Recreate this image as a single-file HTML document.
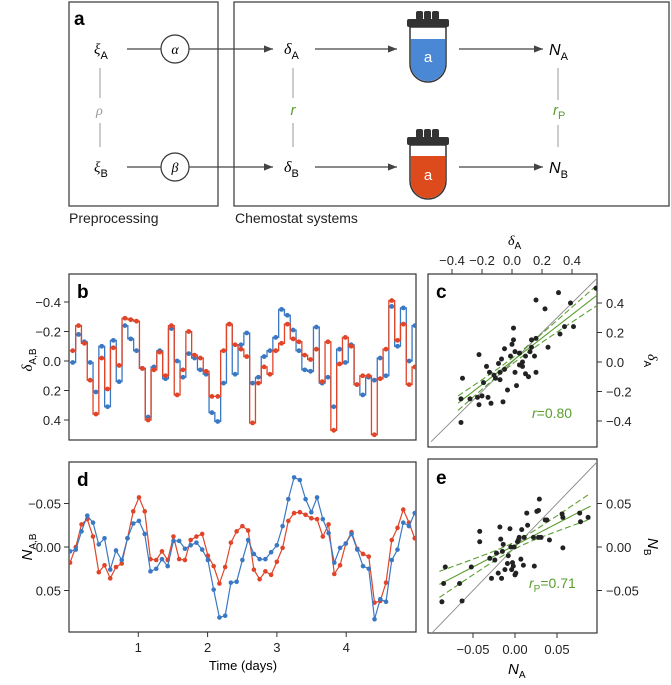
<!DOCTYPE html>
<html><head><meta charset="utf-8"><style>
html,body{margin:0;padding:0;background:#fff;}
svg{display:block;font-family:"Liberation Sans",sans-serif;}
</style></head><body>
<svg id="fig" width="671" height="685" viewBox="0 0 671 685" xmlns="http://www.w3.org/2000/svg">
<defs>
<marker id="ah" viewBox="0 0 10 10" refX="10" refY="5" markerWidth="9" markerHeight="9" markerUnits="userSpaceOnUse" orient="auto"><path d="M0,1 L10,5 L0,9 z" fill="#444"/></marker>
<clipPath id="clipB"><rect x="69" y="274" width="347" height="166"/></clipPath>
<clipPath id="clipD"><rect x="69" y="462" width="347" height="170"/></clipPath>
<clipPath id="clipC"><rect x="428" y="274" width="169" height="173"/></clipPath>
<clipPath id="clipE"><rect x="428" y="459" width="169" height="174"/></clipPath>
</defs>

<!-- Panel a -->
<g>
<rect x="69" y="2" width="149" height="204" fill="none" stroke="#444" stroke-width="1.3"/>
<rect x="234" y="2" width="435" height="204" fill="none" stroke="#444" stroke-width="1.3"/>
<text x="74" y="25" font-size="19" font-weight="bold">a</text>
<text x="69" y="223" font-size="14" fill="#222">Preprocessing</text>
<text x="235" y="223" font-size="14" fill="#222">Chemostat systems</text>

<text x="94" y="54" font-size="15" font-family="Liberation Serif,serif" font-style="italic">ξ<tspan font-family="Liberation Sans,sans-serif" font-style="normal" font-size="11" dy="5">A</tspan></text>
<text x="94" y="172" font-size="15" font-family="Liberation Serif,serif" font-style="italic">ξ<tspan font-family="Liberation Sans,sans-serif" font-style="normal" font-size="11" dy="5">B</tspan></text>
<line x1="100" y1="68" x2="100" y2="98" stroke="#999"/><line x1="100" y1="123" x2="100" y2="147" stroke="#999"/>
<text x="96" y="115" font-size="14" fill="#999" font-family="Liberation Serif,serif" font-style="italic">ρ</text>

<line x1="127" y1="49" x2="161" y2="49" stroke="#444" stroke-width="1.2"/>
<circle cx="175" cy="49" r="14" fill="none" stroke="#333" stroke-width="1.2"/>
<text x="175" y="54" font-size="14" text-anchor="middle" font-family="Liberation Serif,serif" font-style="italic">α</text>
<line x1="189" y1="49" x2="273" y2="49" stroke="#444" stroke-width="1.2" marker-end="url(#ah)"/>
<line x1="127" y1="167" x2="161" y2="167" stroke="#444" stroke-width="1.2"/>
<circle cx="175" cy="167" r="14" fill="none" stroke="#333" stroke-width="1.2"/>
<text x="175" y="172" font-size="14" text-anchor="middle" font-family="Liberation Serif,serif" font-style="italic">β</text>
<line x1="189" y1="167" x2="273" y2="167" stroke="#444" stroke-width="1.2" marker-end="url(#ah)"/>

<text x="284" y="54" font-size="16" font-family="Liberation Serif,serif" font-style="italic">δ<tspan font-family="Liberation Sans,sans-serif" font-style="normal" font-size="11" dy="5">A</tspan></text>
<text x="284" y="172" font-size="16" font-family="Liberation Serif,serif" font-style="italic">δ<tspan font-family="Liberation Sans,sans-serif" font-style="normal" font-size="11" dy="5">B</tspan></text>
<line x1="293" y1="68" x2="293" y2="98" stroke="#999"/><line x1="293" y1="123" x2="293" y2="147" stroke="#999"/>
<text x="293" y="115" font-size="15" fill="#5a9e2f" text-anchor="middle" font-style="italic">r</text>

<line x1="315" y1="49" x2="397" y2="49" stroke="#444" stroke-width="1.2" marker-end="url(#ah)"/>
<line x1="315" y1="167" x2="397" y2="167" stroke="#444" stroke-width="1.2" marker-end="url(#ah)"/>

<g>
<rect x="416" y="11" width="7" height="9" rx="2" fill="#333"/><rect x="424" y="11" width="7" height="9" rx="2" fill="#333"/><rect x="432" y="11" width="7" height="9" rx="2" fill="#333"/>
<rect x="407" y="19" width="42" height="8" rx="2" fill="#333"/>
<path d="M410,27 V64 A18,18 0 0 0 446,64 V27 Z" fill="#fff" stroke="#333" stroke-width="1.5"/>
<path d="M410.8,39 V64 A17.2,17.2 0 0 0 445.2,64 V39 Z" fill="#4a88d6"/>
<text x="428" y="62" font-size="15" fill="#fff" text-anchor="middle">a</text>
</g>
<g>
<rect x="416" y="129" width="7" height="9" rx="2" fill="#333"/><rect x="424" y="129" width="7" height="9" rx="2" fill="#333"/><rect x="432" y="129" width="7" height="9" rx="2" fill="#333"/>
<rect x="407" y="137" width="42" height="8" rx="2" fill="#333"/>
<path d="M410,145 V181 A18,18 0 0 0 446,181 V145 Z" fill="#fff" stroke="#333" stroke-width="1.5"/>
<path d="M410.8,156 V181 A17.2,17.2 0 0 0 445.2,181 V156 Z" fill="#dd4a1c"/>
<text x="428" y="180" font-size="15" fill="#fff" text-anchor="middle">a</text>
</g>
<line x1="459" y1="49" x2="543" y2="49" stroke="#444" stroke-width="1.2" marker-end="url(#ah)"/>
<line x1="459" y1="167" x2="543" y2="167" stroke="#444" stroke-width="1.2" marker-end="url(#ah)"/>
<text x="549" y="55" font-size="16" font-style="italic">N<tspan font-style="normal" font-size="11" dy="5">A</tspan></text>
<text x="549" y="173" font-size="16" font-style="italic">N<tspan font-style="normal" font-size="11" dy="5">B</tspan></text>
<line x1="558" y1="68" x2="558" y2="100" stroke="#999"/><line x1="558" y1="125" x2="558" y2="147" stroke="#999"/>
<text x="553" y="115" font-size="15" fill="#5a9e2f" font-style="italic">r<tspan font-style="normal" font-size="11" dy="4">P</tspan></text>
</g>

<!-- frames & static axis text -->
<rect x="69" y="274" width="347" height="166" fill="none" stroke="#333" stroke-width="1.2"/>
<rect x="69" y="462" width="347" height="170" fill="none" stroke="#333" stroke-width="1.2"/>
<rect x="428" y="274" width="169" height="173" fill="none" stroke="#333" stroke-width="1.2"/>
<rect x="428" y="459" width="169" height="174" fill="none" stroke="#333" stroke-width="1.2"/>
<text x="77" y="298" font-size="19" font-weight="bold">b</text>
<text x="436" y="298" font-size="19" font-weight="bold">c</text>
<text x="77" y="486" font-size="19" font-weight="bold">d</text>
<text x="436" y="484" font-size="19" font-weight="bold">e</text>

<text transform="translate(32,360) rotate(-90)" font-size="15" text-anchor="middle" font-family="Liberation Serif,serif" font-style="italic">δ<tspan font-family="Liberation Sans,sans-serif" font-style="normal" font-size="10" dy="4">A,B</tspan></text>
<text transform="translate(32,547) rotate(-90)" font-size="15" text-anchor="middle" font-style="italic">N<tspan font-style="normal" font-size="10" dy="4">A,B</tspan></text>
<text x="243" y="670" font-size="13" text-anchor="middle">Time (days)</text>
<text x="508" y="245" font-size="14" font-family="Liberation Serif,serif" font-style="italic">δ<tspan font-family="Liberation Sans,sans-serif" font-style="normal" font-size="10" dy="4">A</tspan></text>
<text transform="translate(648,354) rotate(90)" font-size="14" font-family="Liberation Serif,serif" font-style="italic">δ<tspan font-family="Liberation Sans,sans-serif" font-style="normal" font-size="10" dy="4">A</tspan></text>
<text transform="translate(648,538) rotate(90)" font-size="15" font-style="italic">N<tspan font-style="normal" font-size="10" dy="4">B</tspan></text>
<text x="508" y="674" font-size="15" font-style="italic">N<tspan font-style="normal" font-size="10" dy="4">A</tspan></text>
<text x="532" y="418" font-size="14" fill="#5a9e2f"><tspan font-style="italic">r</tspan>=0.80</text>
<text x="529" y="588" font-size="14" fill="#5a9e2f"><tspan font-style="italic">r</tspan><tspan font-size="10" dy="4">P</tspan><tspan dy="-4">=0.71</tspan></text>

<g id="gB" clip-path="url(#clipB)"></g>
<g id="gD" clip-path="url(#clipD)"></g>
<g id="gC" clip-path="url(#clipC)"></g>
<g id="gE" clip-path="url(#clipE)"></g>
<g id="gAx"></g>
</svg>
<script>
// ---- data ----
const bRed=[-0.07,-0.24,-0.12,0.13,0.36,-0.02,0.19,-0.09,0.03,-0.29,-0.28,-0.27,0.05,0.40,0.06,-0.06,0.10,-0.24,0.23,0.06,-0.20,-0.04,-0.02,0.07,0.24,0.24,-0.07,-0.25,-0.11,-0.08,-0.03,0.42,0.15,0.04,0.09,-0.07,-0.12,-0.25,-0.15,-0.13,-0.04,-0.01,-0.08,0.14,-0.13,0.47,0.02,-0.16,-0.10,0.16,0.10,0.10,0.50,0.12,-0.08,-0.41,-0.14,-0.25,0.16,0.04];
const bBlue=[0.01,-0.18,-0.13,0.01,0.21,-0.10,0.31,-0.14,0.14,-0.24,-0.15,-0.07,0.05,0.38,0.04,-0.07,0.12,-0.22,0.00,0.11,-0.05,-0.02,0.06,0.09,0.35,0.41,0.15,-0.25,0.09,-0.11,-0.19,0.15,0.11,-0.03,-0.07,-0.16,-0.35,-0.31,-0.21,-0.07,0.06,0.07,-0.23,0.15,0.11,0.31,-0.08,0.01,-0.11,0.16,0.23,0.11,0.13,-0.02,0.10,-0.37,-0.10,-0.36,0.00,-0.24];
const bStart=0.054, bStep=0.0837;
const dRed=[0.018,0,-0.026,-0.032,-0.012,0.029,0.021,0.036,0.023,0.019,-0.010,-0.041,-0.057,-0.041,0.014,0.015,0.005,0.015,-0.012,0.014,0.015,-0.008,-0.012,-0.015,0.010,0.022,0.042,0.023,-0.005,-0.018,-0.024,-0.019,0.026,0.037,0.028,0.032,0.017,0.001,-0.030,-0.039,-0.040,-0.037,-0.033,-0.032,-0.012,-0.026,0.031,0.021,-0.004,-0.017,0.002,0.008,0.011,0.064,0.062,0.041,-0.008,-0.022,-0.043,-0.028,-0.010];
const dBlue=[0.005,0.003,-0.018,-0.036,-0.028,-0.003,-0.010,0.026,0.004,0.015,-0.010,-0.027,-0.030,-0.015,0.028,0.025,0.014,0.022,-0.007,-0.007,0.002,-0.002,-0.005,0.003,0.015,0.049,0.081,0.079,0.041,0.040,0.015,-0.008,0.008,0.014,0.014,0.006,-0.002,-0.024,-0.055,-0.080,-0.077,-0.055,-0.040,-0.057,-0.032,-0.016,0.018,0.001,-0.004,-0.015,0.003,0.022,0.025,0.083,0.060,0.063,0.015,0.003,-0.028,-0.024,-0.039];
const dStart=0.015, dStep=0.0829;
const bTicks=[-0.4,-0.2,0.0,0.2,0.4];
const bTickLabels=["\u22120.4","\u22120.2","0.0","0.2","0.4"];
const dTicks=[-0.05,0,0.05];
const dTickLabels=["\u22120.05","0.00","0.05"];
const timeTicks=[1,2,3,4];
const cX=[-0.34,-0.34,-0.33,-0.28,-0.23,-0.22,-0.22,-0.20,-0.19,-0.17,-0.16,-0.14,-0.15,-0.12,-0.11,-0.09,-0.08,-0.07,-0.06,-0.08,-0.05,-0.05,-0.03,-0.01,0.00,0.01,0.01,0.02,0.03,0.02,0.05,0.05,0.07,0.07,0.09,0.09,0.11,0.12,0.13,0.13,0.15,0.16,0.16,0.16,0.22,0.24,0.32,0.31,0.35,0.39,0.41,0.56];
const cY=[-0.41,-0.25,-0.11,-0.25,-0.24,-0.29,0.05,-0.23,-0.14,-0.03,-0.24,-0.28,-0.07,-0.09,-0.11,-0.01,-0.07,0.02,-0.27,-0.12,-0.05,0.09,-0.19,0.04,0.12,0.15,0.23,0.07,-0.16,-0.07,-0.02,0.06,0.00,-0.03,0.04,-0.08,-0.10,0.07,0.15,0.10,0.04,0.16,-0.07,0.42,0.36,0.10,0.19,0.47,0.24,0.40,0.24,0.50];
const cTicks=[-0.4,-0.2,0.0,0.2,0.4];
const cTickLabels=["\u22120.4","\u22120.2","0.0","0.2","0.4"];
const cFit=[0.79,0.005];
const eX=[-0.087,-0.083,-0.085,-0.066,-0.063,-0.052,-0.042,-0.042,-0.030,-0.028,-0.024,-0.022,-0.020,-0.018,-0.017,-0.016,-0.015,-0.014,-0.012,-0.009,-0.008,-0.006,-0.005,-0.004,-0.003,-0.002,-0.001,0,0.001,0.003,0.004,0.005,0.007,0.008,0.010,0.011,0.014,0.015,0.022,0.023,0.026,0.028,0.029,0.028,0.031,0.036,0.038,0.041,0.056,0.057,0.057,0.077,0.078,0.087];
const eY=[-0.063,-0.023,-0.042,-0.042,-0.062,-0.023,0.018,0.006,-0.013,-0.036,-0.015,-0.007,-0.030,0.023,0.009,-0.036,-0.005,0.003,-0.026,-0.019,-0.010,0.021,0.000,-0.026,-0.018,-0.022,0.000,-0.032,-0.030,0.006,0.008,0.011,-0.014,0.020,-0.021,0.011,0.039,0.025,0.011,-0.022,0.041,0.042,0.055,0.011,0.011,0.031,0.031,0.008,0.038,0.034,-0.001,0.039,0.029,0.034];
const eTicks=[-0.05,0,0.05];
const eTickLabels=["\u22120.05","0.00","0.05"];
const eFit=[0.5,0.002];

// ---- scales ----
const NS="http://www.w3.org/2000/svg";
const tx=t=>69+t*69.3;
const byS=v=>361+v*147.5;
const dyS=v=>547+v*870;
const cxS=v=>512+v*150;
const cyS=v=>362-v*147.5;
const exS=v=>515+v*840;
const eyS=v=>547-v*870;
function mk(tag,parent,attrs){const e=document.createElementNS(NS,tag);for(const k in attrs)e.setAttribute(k,attrs[k]);parent.appendChild(e);return e;}
const gB=document.getElementById('gB'),gD=document.getElementById('gD'),gC=document.getElementById('gC'),gE=document.getElementById('gE'),gAx=document.getElementById('gAx');
const BLUE="#3a78c4",RED="#e0452a",GREEN="#5a9e2f";

function stepSeries(vals,color,name){
  let d="";
  vals.forEach((v,i)=>{const x=tx(bStart+i*bStep),y=byS(v),h=bStep*69.3/2;
    d+=(i===0?"M"+(x-h)+","+y:"V"+y)+"H"+(x+h);});
  const p=mk('path',gB,{d:d,fill:'none',stroke:color,'stroke-width':1.3});
  
  
  vals.forEach((v,i)=>{const c=mk('circle',gB,{cx:tx(bStart+i*bStep),cy:byS(v),r:2.4,fill:color});
    
    });
}
stepSeries(bBlue,BLUE,'b-series-a');
stepSeries(bRed,RED,'b-series-b');

function lineSeries(vals,color,name){
  const pts=vals.map((v,i)=>tx(dStart+i*dStep)+","+dyS(v));
  const p=mk('polyline',gD,{points:pts.join(" "),fill:'none',stroke:color,'stroke-width':1.2});
  
  
  vals.forEach((v,i)=>{const c=mk('circle',gD,{cx:tx(dStart+i*dStep),cy:dyS(v),r:2.3,fill:color});
    
    });
}
lineSeries(dRed,RED,'d-series-b');
lineSeries(dBlue,BLUE,'d-series-a');

function scatter(g,X,Y,sx,sy,fit,lo,hi,hw0,hwk,name){
  const dg=mk('line',g,{x1:sx(lo*1.5),y1:sy(lo*1.5),x2:sx(hi*1.5),y2:sy(hi*1.5),stroke:'#888','stroke-width':0.9});
  
  
  const mx=X.reduce((a,b)=>a+b,0)/X.length;
  const xs=[];for(let k=0;k<=40;k++)xs.push(lo+(hi-lo)*k/40);
  [-1,0,1].forEach(s=>{
    const pts=xs.map(x=>{const hw=Math.sqrt(hw0*hw0+Math.pow(hwk*(x-mx),2));return sx(x)+","+sy(fit[0]*x+fit[1]+s*hw);});
    const l=mk('polyline',g,{points:pts.join(" "),fill:'none',stroke:GREEN,'stroke-width':1.1});
    if(s!==0)l.setAttribute('stroke-dasharray','6,3');
    
    
  });
  X.forEach((x,i)=>{const c=mk('circle',g,{cx:sx(x),cy:sy(Y[i]),r:2.5,fill:'#222'});
    
    });
}
scatter(gC,cX,cY,cxS,cyS,cFit,-0.36,0.6,0.02,0.12,'c');
scatter(gE,eX,eY,exS,eyS,eFit,-0.09,0.09,0.004,0.16,'e');

function txt(x,y,s,anchor,name){const t=mk('text',gAx,{x:x,y:y,'font-size':13,'text-anchor':anchor,fill:'#222'});t.textContent=s;
  
  }
function tk(x1,y1,x2,y2){mk('line',gAx,{x1:x1,y1:y1,x2:x2,y2:y2,stroke:'#333','stroke-width':1});}
bTicks.forEach((v,i)=>{tk(64,byS(v),69,byS(v));txt(61,byS(v)+5,bTickLabels[i],'end','b-y-tick-label');});
dTicks.forEach((v,i)=>{tk(64,dyS(v),69,dyS(v));txt(61,dyS(v)+5,dTickLabels[i],'end','d-y-tick-label');});
timeTicks.forEach(t=>{tk(tx(t),632,tx(t),637);txt(tx(t),652,String(t),'middle','time-tick-label');});
cTicks.forEach((v,i)=>{tk(cxS(v),269,cxS(v),274);txt(cxS(v),265,cTickLabels[i],'middle','c-top-tick-label');
  tk(597,cyS(v),602,cyS(v));txt(606,cyS(v)+5,cTickLabels[i],'start','c-right-tick-label');});
eTicks.forEach((v,i)=>{tk(exS(v),633,exS(v),638);txt(exS(v),654,eTickLabels[i],'middle','e-x-tick-label');
  tk(597,eyS(v),602,eyS(v));txt(606,eyS(v)+5,eTickLabels[i],'start','e-right-tick-label');});
</script>
</body></html>
